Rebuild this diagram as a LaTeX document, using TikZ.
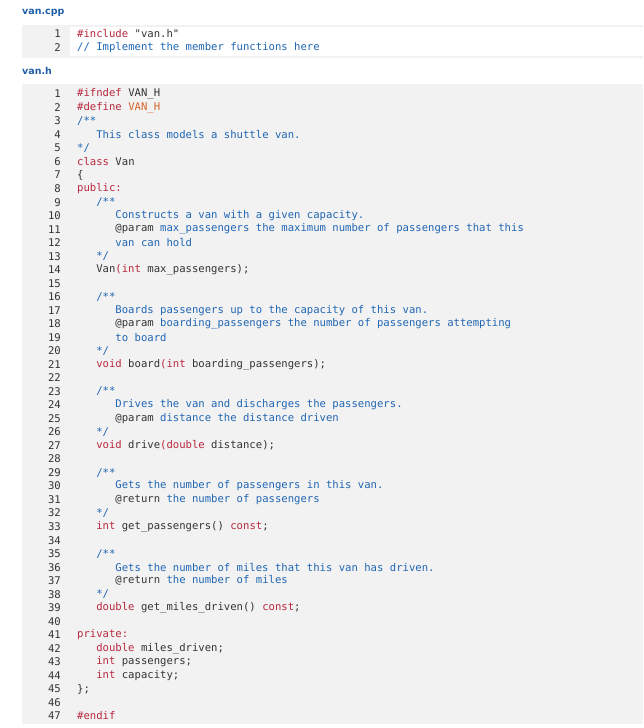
\documentclass[tikz,border=0pt]{standalone}
\usepackage{fontspec}
\setmonofont{DejaVu Sans Mono}
\newfontfamily\titlefont{DejaVu Sans}
\definecolor{kw}{HTML}{B8283D}
\definecolor{cm}{HTML}{2066B3}
\definecolor{tx}{HTML}{333333}
\definecolor{or}{HTML}{D2642A}
\definecolor{bg}{HTML}{F2F2F2}
\definecolor{ttl}{HTML}{1F5FA8}
\newcommand\K[1]{\textcolor{kw}{#1}}
\newcommand\C[1]{\textcolor{cm}{#1}}
\newcommand\hl[3]{\node[num] (n#1) at (61,{-(94+13.52*(#1-1))}) {#1};
  \node[code] (l#1) at ({77+6.38*#2},{-(94+13.52*(#1-1))}) {#3};}
\begin{document}
\begin{tikzpicture}[x=1pt,y=1pt,
  num/.style={anchor=east,inner sep=0pt,font=\ttfamily\fontsize{10.6}{13}\selectfont,text=tx},
  code/.style={anchor=west,inner sep=0pt,font=\ttfamily\fontsize{10.6}{13}\selectfont,text=tx},
  ttlst/.style={anchor=west,inner sep=0pt,font=\titlefont\bfseries\fontsize{9.5}{11}\selectfont,text=ttl}]
\useasboundingbox (0,0) rectangle (643,-728);
\fill[bg] (22,-25) rectangle (643,-58);
\fill[white] (70,-27) rectangle (643,-56);
\fill[bg] (22,-84) rectangle (643,-724);
\node[ttlst] (t1) at (22,-13) {van.cpp};
\node[ttlst] (t2) at (22,-71) {van.h};
\node[num] (c1) at (61,-34) {1};
\node[code] (cl1) at (77,-34) {\K{\#include} "van.h"};
\node[num] (c2) at (61,-48) {2};
\node[code] (cl2) at (77,-48) {\C{// Implement the member functions here}};
\hl{1}{0}{\K{\#ifndef} VAN\_H}
\hl{2}{0}{\K{\#define} \textcolor{or}{VAN\_H}}
\hl{3}{0}{\C{/**}}
\hl{4}{3}{\C{This class models a shuttle van.}}
\hl{5}{0}{\C{*/}}
\hl{6}{0}{\K{class} Van}
\hl{7}{0}{\{}
\hl{8}{0}{\K{public:}}
\hl{9}{3}{\C{/**}}
\hl{10}{6}{\C{Constructs a van with a given capacity.}}
\hl{11}{6}{@param \C{max\_passengers the maximum number of passengers that this}}
\hl{12}{6}{\C{van can hold}}
\hl{13}{3}{\C{*/}}
\hl{14}{3}{Van\K{(int} max\_passengers);}
\hl{15}{0}{}
\hl{16}{3}{\C{/**}}
\hl{17}{6}{\C{Boards passengers up to the capacity of this van.}}
\hl{18}{6}{@param \C{boarding\_passengers the number of passengers attempting}}
\hl{19}{6}{\C{to board}}
\hl{20}{3}{\C{*/}}
\hl{21}{3}{\K{void} board\K{(int} boarding\_passengers);}
\hl{22}{0}{}
\hl{23}{3}{\C{/**}}
\hl{24}{6}{\C{Drives the van and discharges the passengers.}}
\hl{25}{6}{@param \C{distance the distance driven}}
\hl{26}{3}{\C{*/}}
\hl{27}{3}{\K{void} drive\K{(double} distance);}
\hl{28}{0}{}
\hl{29}{3}{\C{/**}}
\hl{30}{6}{\C{Gets the number of passengers in this van.}}
\hl{31}{6}{@return \C{the number of passengers}}
\hl{32}{3}{\C{*/}}
\hl{33}{3}{\K{int} get\_passengers() \K{const};}
\hl{34}{0}{}
\hl{35}{3}{\C{/**}}
\hl{36}{6}{\C{Gets the number of miles that this van has driven.}}
\hl{37}{6}{@return \C{the number of miles}}
\hl{38}{3}{\C{*/}}
\hl{39}{3}{\K{double} get\_miles\_driven() \K{const};}
\hl{40}{0}{}
\hl{41}{0}{\K{private:}}
\hl{42}{3}{\K{double} miles\_driven;}
\hl{43}{3}{\K{int} passengers;}
\hl{44}{3}{\K{int} capacity;}
\hl{45}{0}{\};}
\hl{46}{0}{}
\hl{47}{0}{\K{\#endif}}
\end{tikzpicture}
\end{document}
